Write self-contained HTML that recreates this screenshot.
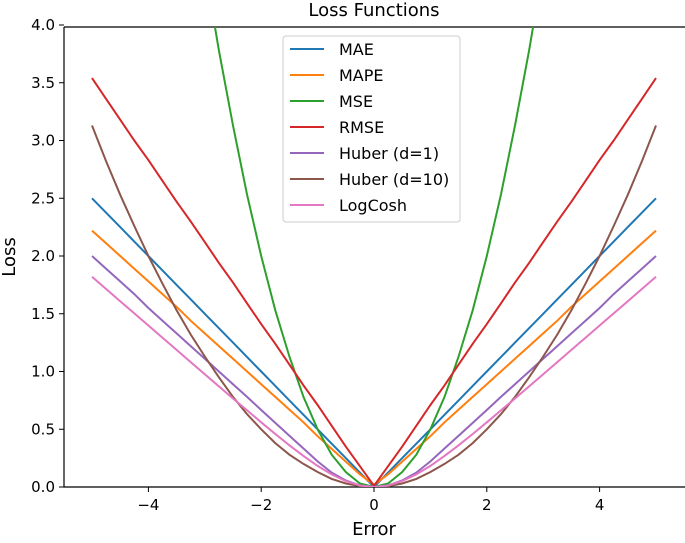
<!DOCTYPE html>
<html><head><meta charset="utf-8"><style>
body{margin:0;background:#fff;}
svg text{font-family:"DejaVu Sans","Liberation Sans",sans-serif;}
</style></head><body>
<svg id="chart" width="685" height="538" xmlns="http://www.w3.org/2000/svg">
<defs><clipPath id="pc"><rect x="64" y="27" width="621" height="460"/></clipPath></defs>
<text x="374" y="16" font-size="18" text-anchor="middle">Loss Functions</text>
<g id="axes"></g>
<g id="lines" clip-path="url(#pc)"></g>
<text x="374" y="535" font-size="18" text-anchor="middle">Error</text>
<text transform="translate(15,257) rotate(-90)" font-size="18" text-anchor="middle">Loss</text>
<g id="legend"></g>
</svg>
<script>
const xs=[-5,-4.75,-4.5,-4.25,-4,-3.75,-3.5,-3.25,-3,-2.75,-2.5,-2.25,-2,-1.75,-1.5,-1.25,-1,-0.75,-0.5,-0.25,0,0.25,0.5,0.75,1,1.25,1.5,1.75,2,2.25,2.5,2.75,3,3.25,3.5,3.75,4,4.25,4.5,4.75,5];
const mae=[2.5,2.375,2.25,2.125,2,1.875,1.75,1.625,1.5,1.375,1.25,1.125,1,0.875,0.75,0.625,0.5,0.375,0.25,0.125,0,0.125,0.25,0.375,0.5,0.625,0.75,0.875,1,1.125,1.25,1.375,1.5,1.625,1.75,1.875,2,2.125,2.25,2.375,2.5];
const mape=[2.22,2.11,2.0,1.89,1.78,1.67,1.56,1.44,1.33,1.22,1.11,1.0,0.89,0.78,0.67,0.56,0.44,0.33,0.22,0.11,0.02,0.11,0.22,0.33,0.44,0.56,0.67,0.78,0.89,1.0,1.11,1.22,1.33,1.44,1.56,1.67,1.78,1.89,2.0,2.11,2.22];
const mse=[12.5,11.28,10.13,9.03,8,7.03,6.13,5.28,4.5,3.78,3.13,2.53,2,1.53,1.13,0.78,0.5,0.28,0.13,0.03,0,0.03,0.13,0.28,0.5,0.78,1.13,1.53,2,2.53,3.13,3.78,4.5,5.28,6.13,7.03,8,9.03,10.13,11.28,12.5];
const rmse=[3.54,3.36,3.18,3.0,2.83,2.65,2.47,2.3,2.12,1.94,1.77,1.59,1.41,1.24,1.06,0.88,0.71,0.53,0.35,0.18,0.01,0.18,0.35,0.53,0.71,0.88,1.06,1.24,1.41,1.59,1.77,1.94,2.12,2.3,2.47,2.65,2.83,3.0,3.18,3.36,3.54];
const huber1=[2.0,1.89,1.78,1.67,1.55,1.44,1.33,1.22,1.11,1.0,0.89,0.78,0.667,0.555,0.444,0.333,0.222,0.125,0.056,0.014,0,0.014,0.056,0.125,0.222,0.333,0.444,0.555,0.667,0.78,0.89,1.0,1.11,1.22,1.33,1.44,1.55,1.67,1.78,1.89,2.0];
const huber10=[3.13,2.82,2.53,2.26,2,1.76,1.53,1.32,1.13,0.95,0.78,0.63,0.5,0.38,0.28,0.2,0.13,0.07,0.03,0.008,0,0.008,0.03,0.07,0.13,0.2,0.28,0.38,0.5,0.63,0.78,0.95,1.13,1.32,1.53,1.76,2,2.26,2.53,2.82,3.13];
const logcosh=[1.82,1.714,1.609,1.503,1.398,1.292,1.187,1.081,0.976,0.871,0.766,0.663,0.56,0.459,0.361,0.269,0.183,0.109,0.051,0.013,0,0.013,0.051,0.109,0.183,0.269,0.361,0.459,0.56,0.663,0.766,0.871,0.976,1.081,1.187,1.292,1.398,1.503,1.609,1.714,1.82];
const seriesNames=["MAE","MAPE","MSE","RMSE","Huber (d=1)","Huber (d=10)","LogCosh"];
const xTicks=[-4,-2,0,2,4];
const yTicks=[0,0.5,1,1.5,2,2.5,3,3.5,4];
const series=[mae,mape,mse,rmse,huber1,huber10,logcosh];
const colors=["#1f77b4","#ff7f0e","#2ca02c","#d62728","#9467bd","#8c564b","#e377c2"];
const X=v=>374+v*56.4, Y=v=>487-v*115.5;
const NS="http://www.w3.org/2000/svg";
function mk(t,a,p){const e=document.createElementNS(NS,t);for(const k in a)e.setAttribute(k,a[k]);p.appendChild(e);return e;}
const ax=document.getElementById('axes');
const fr=mk('path',{d:'M64 27 V487 H685',fill:'none',stroke:'#000','stroke-width':1.2},ax);


const topSpine=mk('line',{x1:64,y1:27,x2:685,y2:27,stroke:'#000','stroke-width':1.2},ax);


xTicks.forEach(t=>{
 mk('line',{x1:X(t),y1:487,x2:X(t),y2:492,stroke:'#000'},ax);
 const tx=mk('text',{x:X(t),y:510,'font-size':15,'text-anchor':'middle'},ax);
 tx.textContent=(t<0?'\u2212'+(-t):t);
 
 
});
yTicks.forEach(t=>{
 mk('line',{x1:59,y1:Y(t),x2:64,y2:Y(t),stroke:'#000'},ax);
 const tx=mk('text',{x:55,y:Y(t)+5,'font-size':15,'text-anchor':'end'},ax);
 tx.textContent=t.toFixed(1);
 
 
});
const lg=document.getElementById('lines');
series.forEach((s,i)=>{
 const d=s.map((v,j)=>(j?'L':'M')+X(xs[j]).toFixed(1)+' '+Y(v).toFixed(1)).join(' ');
 const p=mk('path',{d:d,fill:'none',stroke:colors[i],'stroke-width':2},lg);
 
 
});
const leg=document.getElementById('legend');
const box=mk('rect',{x:283,y:36,width:177,height:186,rx:3,fill:'#fff',stroke:'#ccc','fill-opacity':0.8},leg);


seriesNames.forEach((n,i)=>{
 const y=49+i*26;
 mk('line',{x1:290,y1:y,x2:324,y2:y,stroke:colors[i],'stroke-width':2},leg);
 const t=mk('text',{x:339,y:y+6,'font-size':16},leg);
 t.textContent=n;
 
 
});
</script>
</body></html>
